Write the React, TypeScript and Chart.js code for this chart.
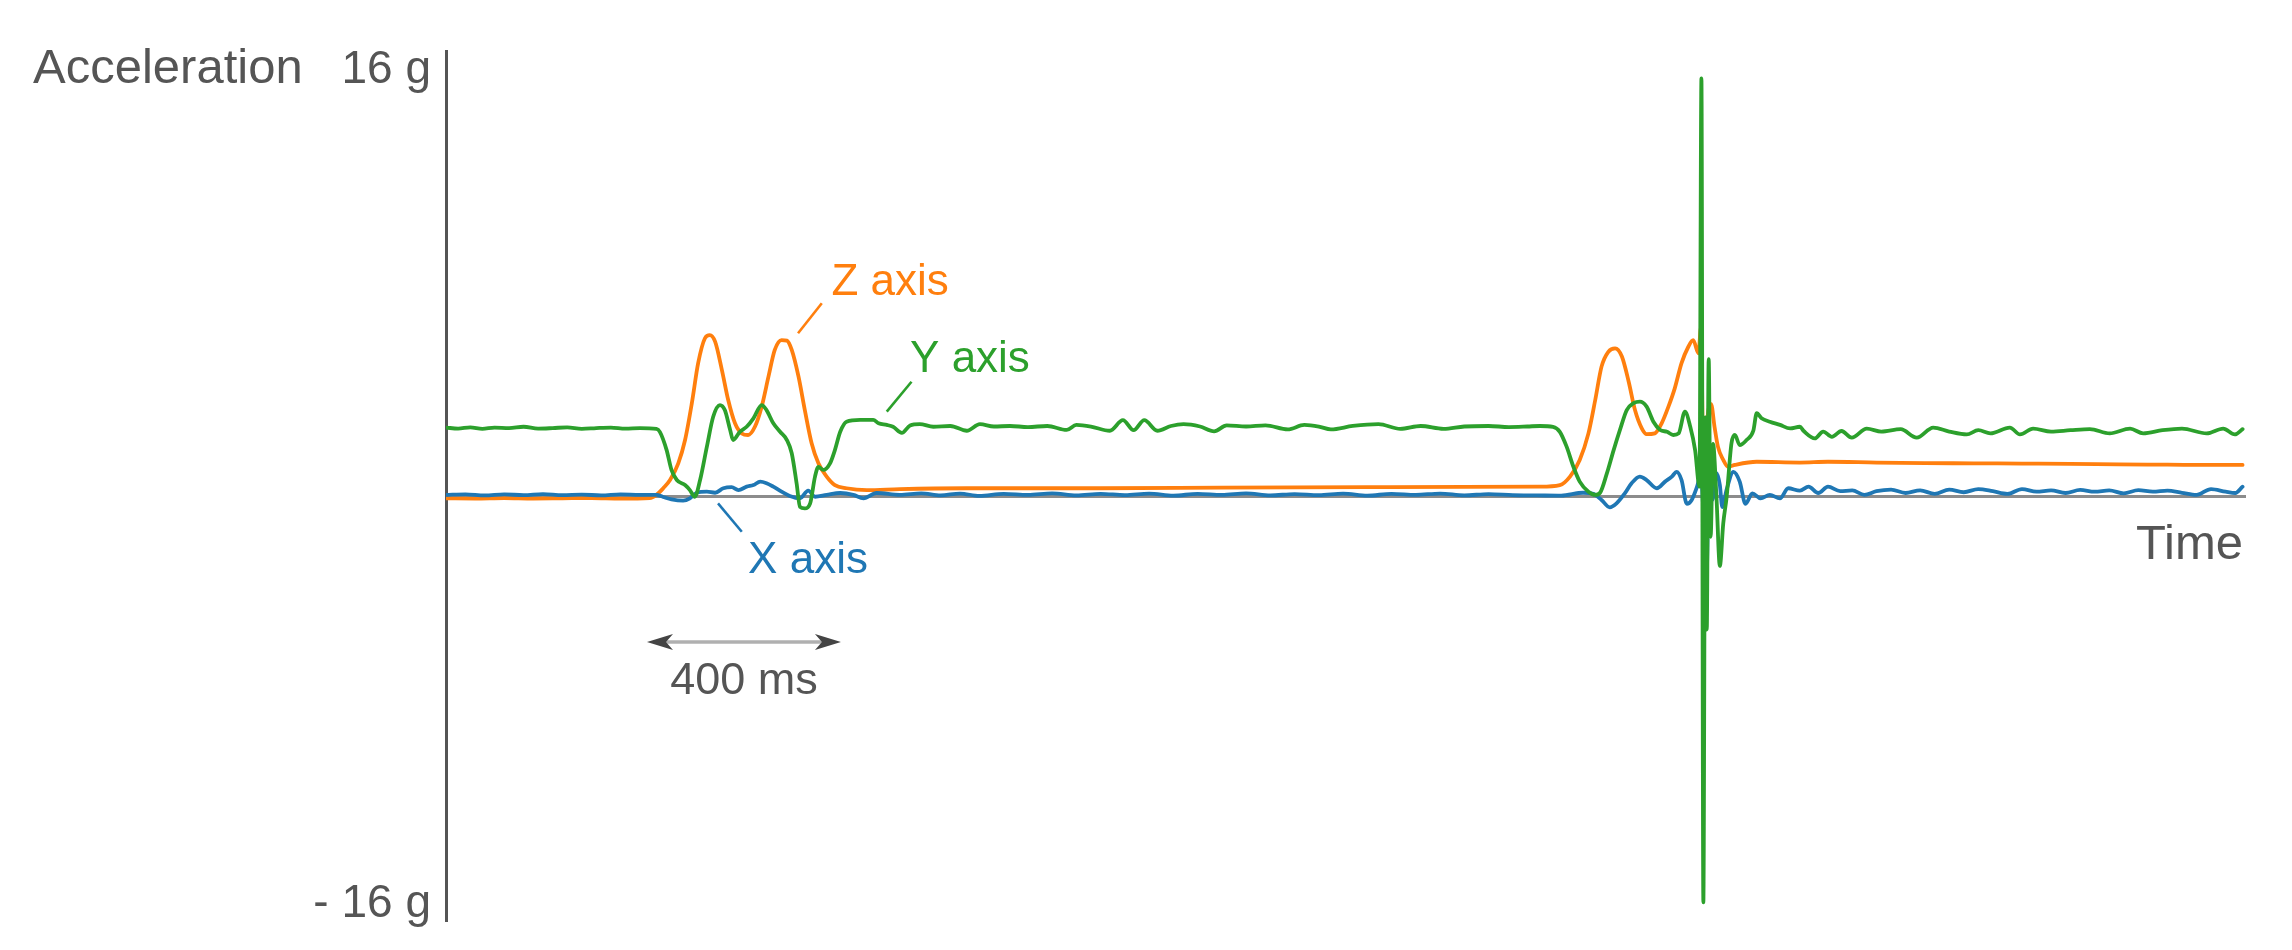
import React, { useEffect, useRef } from "react";
import { Chart, registerables } from "chart.js";

Chart.register(...registerables);

// ---- Data (time in ms, acceleration in g) ----
const seriesNames = ["X axis", "Y axis", "Z axis"];

const yAxisTime = [
  0, 25, 50, 75, 100, 130, 160, 190, 220, 250, 280, 310, 340, 370, 400, 434,
  441, 455, 465, 476, 493, 503, 513, 524, 538, 551, 565, 575, 586, 592, 606, 620,
  634, 651, 661, 675, 689, 703, 713, 723, 730, 740, 751, 761, 768, 778, 792, 802,
  813, 826, 854, 881, 892, 909, 922, 940, 957, 977, 1005, 1040, 1074, 1101, 1130, 1163,
  1200, 1240, 1280, 1300, 1330, 1369, 1396, 1418, 1440, 1467, 1495, 1521, 1555, 1584, 1610, 1650,
  1690, 1736, 1770, 1800, 1825, 1870, 1923, 1968, 2010, 2057, 2100, 2150, 2192, 2230, 2256, 2283,
  2297, 2311, 2325, 2338, 2356, 2370, 2380, 2394, 2408, 2421, 2435, 2449, 2462, 2476, 2490, 2504,
  2518, 2531, 2542, 2555, 2566, 2576, 2585, 2589, 2593, 2597, 2600, 2604, 2608, 2613, 2620, 2627,
  2634, 2641, 2651, 2658, 2668, 2682, 2696, 2703, 2713, 2730, 2751, 2772, 2792, 2800, 2823, 2840,
  2858, 2878, 2899, 2930, 2960, 3000, 3033, 3067, 3100, 3136, 3160, 3185, 3225, 3246, 3273, 3310,
  3350, 3390, 3431, 3473, 3500, 3540, 3580, 3631, 3665, 3689, 3705,
];
const yAxisAccel = [
  2.62, 2.58, 2.63, 2.57, 2.62, 2.6, 2.65, 2.58, 2.6, 2.63, 2.57, 2.6, 2.62, 2.58, 2.6, 2.57,
  2.46, 1.77, 1.02, 0.64, 0.45, 0.26, 0.01, 0.64, 1.9, 3.03, 3.47, 3.28, 2.53, 2.15, 2.46, 2.65,
  2.97, 3.47, 3.28, 2.78, 2.46, 2.15, 1.65, 0.52, -0.37, -0.43, -0.24, 0.77, 1.14, 1.02, 1.27, 1.77,
  2.46, 2.84, 2.91, 2.91, 2.78, 2.72, 2.65, 2.42, 2.7, 2.75, 2.65, 2.68, 2.5, 2.75, 2.66, 2.68,
  2.64, 2.68, 2.53, 2.72, 2.66, 2.5, 2.9, 2.52, 2.9, 2.5, 2.68, 2.75, 2.66, 2.48, 2.7, 2.66,
  2.7, 2.55, 2.72, 2.66, 2.55, 2.68, 2.75, 2.57, 2.68, 2.57, 2.66, 2.68, 2.64, 2.66, 2.68, 2.65,
  2.46, 1.9, 1.14, 0.58, 0.2, 0.08, 0.16, 0.89, 1.77, 2.53, 3.28, 3.54, 3.6, 3.41, 2.84, 2.53,
  2.46, 2.34, 2.4, 3.22, 2.65, 1.77, 0.39, 15.8, -15.3, 3.0, -5.0, 5.2, -1.5, 2.0, 0.0, -2.6,
  -1.0, 0.0, 2.03, 2.34, 1.96, 2.15, 2.5, 3.16, 2.97, 2.84, 2.72, 2.59, 2.65, 2.49, 2.21, 2.47,
  2.27, 2.49, 2.24, 2.58, 2.47, 2.56, 2.24, 2.62, 2.47, 2.36, 2.52, 2.4, 2.62, 2.36, 2.58, 2.47,
  2.52, 2.56, 2.4, 2.58, 2.4, 2.52, 2.58, 2.4, 2.58, 2.36, 2.56,
];

const zAxisTime = [
  0, 60, 120, 180, 240, 300, 360, 420, 434, 448, 462, 479, 493, 507, 520, 534,
  544, 555, 569, 582, 596, 610, 623, 637, 651, 665, 678, 692, 703, 713, 727, 740,
  754, 768, 785, 802, 826, 868, 936, 1074, 1349, 1600, 1900, 2100, 2256, 2297, 2318, 2338,
  2356, 2370, 2383, 2397, 2411, 2425, 2439, 2452, 2466, 2476, 2493, 2507, 2521, 2534, 2548, 2562,
  2572, 2583, 2588, 2592, 2596, 2600, 2605, 2609, 2616, 2623, 2634, 2644, 2658, 2703, 2792, 2850,
  2950, 3050, 3150, 3250, 3350, 3450, 3550, 3650, 3705,
];
const zAxisAccel = [
  -0.05, -0.06, -0.04, -0.06, -0.05, -0.04, -0.06, -0.04, 0.08, 0.33, 0.64, 1.27, 2.15, 3.54, 5.05, 5.99,
  6.11, 5.86, 4.79, 3.66, 2.78, 2.4, 2.34, 2.65, 3.41, 4.54, 5.55, 5.92, 5.9, 5.55, 4.54, 3.28,
  2.03, 1.27, 0.77, 0.45, 0.33, 0.26, 0.3, 0.33, 0.33, 0.35, 0.37, 0.38, 0.39, 0.45, 0.77, 1.4,
  2.4, 3.66, 4.92, 5.48, 5.61, 5.3, 4.35, 3.28, 2.59, 2.37, 2.4, 2.78, 3.41, 4.1, 5.05, 5.67,
  5.92, 5.42, 6.4, 2.0, -0.3, 2.5, 3.41, 3.5, 2.65, 1.9, 1.4, 1.14, 1.21, 1.33, 1.3, 1.33,
  1.3, 1.28, 1.27, 1.26, 1.25, 1.23, 1.22, 1.21, 1.21,
];

const xAxisTime = [
  0, 40, 80, 120, 160, 200, 240, 280, 320, 360, 400, 434, 448, 465, 489, 503,
  517, 538, 555, 572, 589, 603, 620, 634, 648, 661, 675, 692, 709, 730, 747, 761,
  785, 813, 840, 861, 888, 936, 980, 1020, 1060, 1100, 1150, 1200, 1250, 1300, 1350, 1400,
  1450, 1500, 1550, 1600, 1650, 1700, 1750, 1800, 1850, 1900, 1950, 2000, 2050, 2100, 2150, 2200,
  2250, 2300, 2345, 2366, 2383, 2400, 2414, 2431, 2445, 2462, 2476, 2497, 2514, 2528, 2538, 2548,
  2559, 2569, 2580, 2587, 2592, 2598, 2605, 2612, 2620, 2627, 2632, 2641, 2655, 2668, 2680, 2694,
  2711, 2730, 2751, 2768, 2792, 2810, 2830, 2850, 2875, 2900, 2925, 2950, 2980, 3010, 3040, 3070,
  3100, 3130, 3160, 3190, 3220, 3250, 3280, 3310, 3340, 3370, 3400, 3430, 3460, 3490, 3520, 3550,
  3580, 3610, 3640, 3670, 3690, 3705,
];
const xAxisAccel = [
  0.08, 0.1, 0.06, 0.1, 0.07, 0.11, 0.07, 0.09, 0.06, 0.1, 0.08, 0.08, 0.0, -0.09, -0.14, -0.05,
  0.16, 0.2, 0.16, 0.33, 0.37, 0.26, 0.39, 0.45, 0.58, 0.52, 0.39, 0.2, 0.04, -0.05, 0.24, 0.01,
  0.08, 0.15, 0.08, -0.05, 0.15, 0.08, 0.14, 0.06, 0.13, 0.04, 0.12, 0.08, 0.14, 0.06, 0.12, 0.07,
  0.13, 0.05, 0.12, 0.08, 0.14, 0.06, 0.11, 0.07, 0.13, 0.05, 0.12, 0.08, 0.13, 0.06, 0.11, 0.07,
  0.06, 0.05, 0.16, 0.12, -0.11, -0.39, -0.24, 0.14, 0.52, 0.77, 0.64, 0.33, 0.58, 0.77, 0.95, 0.64,
  -0.26, -0.11, 0.39, 0.8, -0.2, -4.1, 0.77, -0.1, 0.9, 0.45, -0.38, 0.28, 0.95, 0.58, -0.26, 0.14,
  -0.05, 0.08, -0.05, 0.33, 0.24, 0.39, 0.15, 0.39, 0.22, 0.25, 0.08, 0.22, 0.28, 0.15, 0.25, 0.12,
  0.28, 0.18, 0.3, 0.22, 0.12, 0.3, 0.2, 0.25, 0.15, 0.27, 0.2, 0.25, 0.14, 0.26, 0.2, 0.24,
  0.16, 0.08, 0.3, 0.2, 0.15, 0.39,
];

const timeRange = [0, 3710];
const accelRange = [-16, 16.83];
const yTickLabels = ["16 g", "- 16 g"];
const axisTitles = ["Acceleration", "Time"];
const scaleBarLabel = "400 ms";
const scaleBarSpan = [414.5, 814.5];

const COLORS = { x: "#1f77b4", y: "#2ca02c", z: "#ff7f0e" };
const TEXT = "#555555";
const FONT = '"Liberation Sans", Arial, Helvetica, sans-serif';

function toPoints(t: number[], v: number[]) {
  return t.map((tt, i) => ({ x: tt, y: v[i] }));
}

// annotation anchors in data coordinates: [time, g]
const seriesLabelPos: Record<string, { text: [number, number]; from: [number, number]; to: [number, number]; color: string }> = {
  "Z axis": { text: [795, 7.62], from: [726, 6.18], to: [775, 7.31], color: COLORS.z },
  "Y axis": { text: [957, 4.73], from: [909, 3.22], to: [960, 4.35], color: COLORS.y },
  "X axis": { text: [623, -2.88], from: [561, -0.24], to: [610, -1.31], color: COLORS.x },
};

const annotationPlugin = {
  id: "annotationsCustom",
  afterDraw(chart: any) {
    const { ctx, chartArea, scales } = chart;
    const xs = scales.x;
    const ys = scales.y;
    const px = (t: number) => xs.getPixelForValue(t);
    const py = (g: number) => ys.getPixelForValue(g);
    ctx.save();
    ctx.textBaseline = "alphabetic";

    // axis titles
    ctx.fillStyle = TEXT;
    ctx.font = `49px ${FONT}`;
    ctx.textAlign = "left";
    ctx.fillText(axisTitles[0], 33, chartArea.top + 32);
    ctx.textAlign = "right";
    ctx.fillText(axisTitles[1], chartArea.right - 2, py(0) + 62);

    // y tick labels
    ctx.font = `46px ${FONT}`;
    ctx.fillText(yTickLabels[0], chartArea.left - 15, chartArea.top + 32);
    ctx.fillText(yTickLabels[1], chartArea.left - 15, chartArea.bottom - 4);

    // series labels with leader lines
    ctx.font = `44px ${FONT}`;
    ctx.textAlign = "left";
    for (const name of seriesNames) {
      const a = seriesLabelPos[name];
      ctx.strokeStyle = a.color;
      ctx.lineWidth = 2.6;
      ctx.beginPath();
      ctx.moveTo(px(a.from[0]), py(a.from[1]));
      ctx.lineTo(px(a.to[0]), py(a.to[1]));
      ctx.stroke();
      ctx.fillStyle = a.color;
      ctx.fillText(name, px(a.text[0]), py(a.text[1]));
    }

    // scale bar
    const x0 = px(scaleBarSpan[0]);
    const x1 = px(scaleBarSpan[1]);
    const yb = py(-5.47);
    ctx.strokeStyle = "#b0b0b0";
    ctx.lineWidth = 3.5;
    ctx.beginPath();
    ctx.moveTo(x0 + 10, yb);
    ctx.lineTo(x1 - 10, yb);
    ctx.stroke();
    ctx.fillStyle = "#444444";
    const head = (tip: number, dir: number) => {
      ctx.beginPath();
      ctx.moveTo(tip, yb);
      ctx.lineTo(tip + dir * 26, yb - 8);
      ctx.lineTo(tip + dir * 19, yb);
      ctx.lineTo(tip + dir * 26, yb + 8);
      ctx.closePath();
      ctx.fill();
    };
    head(x0, 1);
    head(x1, -1);
    ctx.fillStyle = TEXT;
    ctx.font = `45px ${FONT}`;
    ctx.textAlign = "center";
    ctx.fillText(scaleBarLabel, (x0 + x1) / 2, py(-7.43));

    ctx.restore();
  },
};

export default function App() {
  const ref = useRef<HTMLCanvasElement | null>(null);

  useEffect(() => {
    document.body.style.margin = "0";
    const canvas = ref.current;
    if (!canvas) return;
    const lineDefaults = {
      pointRadius: 0,
      borderWidth: 3.8,
      fill: false,
      cubicInterpolationMode: "monotone" as const,
      borderCapStyle: "round" as const,
      borderJoinStyle: "round" as const,
    };
    const chart = new Chart(canvas, {
      type: "line",
      data: {
        datasets: [
          { ...lineDefaults, label: seriesNames[1], data: toPoints(yAxisTime, yAxisAccel), borderColor: COLORS.y },
          { ...lineDefaults, label: seriesNames[0], data: toPoints(xAxisTime, xAxisAccel), borderColor: COLORS.x },
          { ...lineDefaults, label: seriesNames[2], data: toPoints(zAxisTime, zAxisAccel), borderColor: COLORS.z },
        ],
      },
      options: {
        animation: false,
        responsive: false,
        devicePixelRatio: 1,
        layout: { padding: { left: 446, right: 47, top: 51, bottom: 29 } },
        plugins: { legend: { display: false }, tooltip: { enabled: false }, title: { display: false } },
        events: [],
        scales: {
          x: {
            type: "linear",
            min: timeRange[0],
            max: timeRange[1],
            position: { y: 0 },
            z: 1,
            grid: { display: false, drawTicks: false },
            ticks: { display: false },
            border: { display: true, color: "#8c8c8c", width: 3 },
          },
          y: {
            type: "linear",
            min: accelRange[0],
            max: accelRange[1],
            position: "left",
            grid: { display: false, drawTicks: false },
            ticks: { display: false },
            border: { display: true, color: "#555555", width: 3 },
          },
        },
      },
      plugins: [annotationPlugin],
    });
    return () => chart.destroy();
  }, []);

  return (
    <canvas
      ref={ref}
      width={2292}
      height={950}
      style={{ display: "block", width: "2292px", height: "950px" }}
    />
  );
}
